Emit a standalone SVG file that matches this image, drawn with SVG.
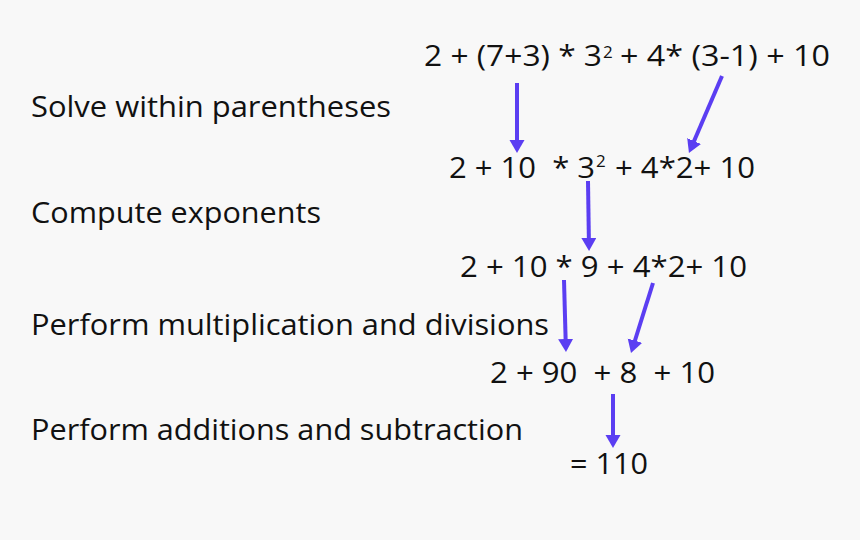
<svg xmlns="http://www.w3.org/2000/svg" width="860" height="540" viewBox="0 0 860 540">
<style>
.t{font-family:"Open Sans","Noto Sans","Liberation Sans",sans-serif;font-size:29px;fill:#111;white-space:pre}
.s{font-family:"Open Sans","Noto Sans","Liberation Sans",sans-serif;font-size:17px;fill:#111}
.a{stroke:#5b3ef2;stroke-width:4;fill:none;marker-end:url(#ah)}
</style>
<defs>
<marker id="ah" markerUnits="userSpaceOnUse" markerWidth="16" markerHeight="16" refX="3" refY="7.5" orient="auto">
<path d="M0,0 L13,7.5 L0,15 z" fill="#5b3ef2"/>
</marker>
</defs>
<rect width="860" height="540" fill="#f8f8f8"/>
<g id="labels">
<text class="t" x="31" y="117" textLength="360" lengthAdjust="spacingAndGlyphs">Solve within parentheses</text>
<text class="t" x="31" y="223" textLength="290" lengthAdjust="spacingAndGlyphs">Compute exponents</text>
<text class="t" x="31" y="335" textLength="518" lengthAdjust="spacingAndGlyphs">Perform multiplication and divisions</text>
<text class="t" x="31" y="440" textLength="492" lengthAdjust="spacingAndGlyphs">Perform additions and subtraction</text>
</g>
<g id="expr1">
<text class="t" x="424" y="66" textLength="178" lengthAdjust="spacingAndGlyphs">2 + (7+3) * 3</text>
<text class="s" x="603" y="58">2</text>
<text class="t" x="620" y="66" textLength="210" lengthAdjust="spacingAndGlyphs">+ 4* (3-1) + 10</text>
</g>
<g id="expr2">
<text class="t" x="449" y="178" textLength="146" lengthAdjust="spacingAndGlyphs">2 + 10  * 3</text>
<text class="s" x="596" y="167">2</text>
<text class="t" x="615" y="178" textLength="140" lengthAdjust="spacingAndGlyphs">+ 4*2+ 10</text>
</g>
<g id="expr3">
<text class="t" x="460" y="277" textLength="287" lengthAdjust="spacingAndGlyphs">2 + 10 * 9 + 4*2+ 10</text>
</g>
<g id="expr4">
<text class="t" x="490" y="383" textLength="225" lengthAdjust="spacingAndGlyphs">2 + 90  + 8  + 10</text>
</g>
<g id="result">
<text class="t" x="570" y="474" textLength="78" lengthAdjust="spacingAndGlyphs">= 110</text>
</g>
<g id="connectors">
<line class="a" x1="517" y1="83" x2="517" y2="143"/>
<line class="a" x1="722" y1="76" x2="692.9" y2="143.8"/>
<line class="a" x1="588" y1="181" x2="588.9" y2="241"/>
<line class="a" x1="564" y1="280" x2="565.7" y2="342"/>
<line class="a" x1="653" y1="283" x2="634" y2="343.5"/>
<line class="a" x1="613" y1="394" x2="613" y2="438"/>
</g>
</svg>
